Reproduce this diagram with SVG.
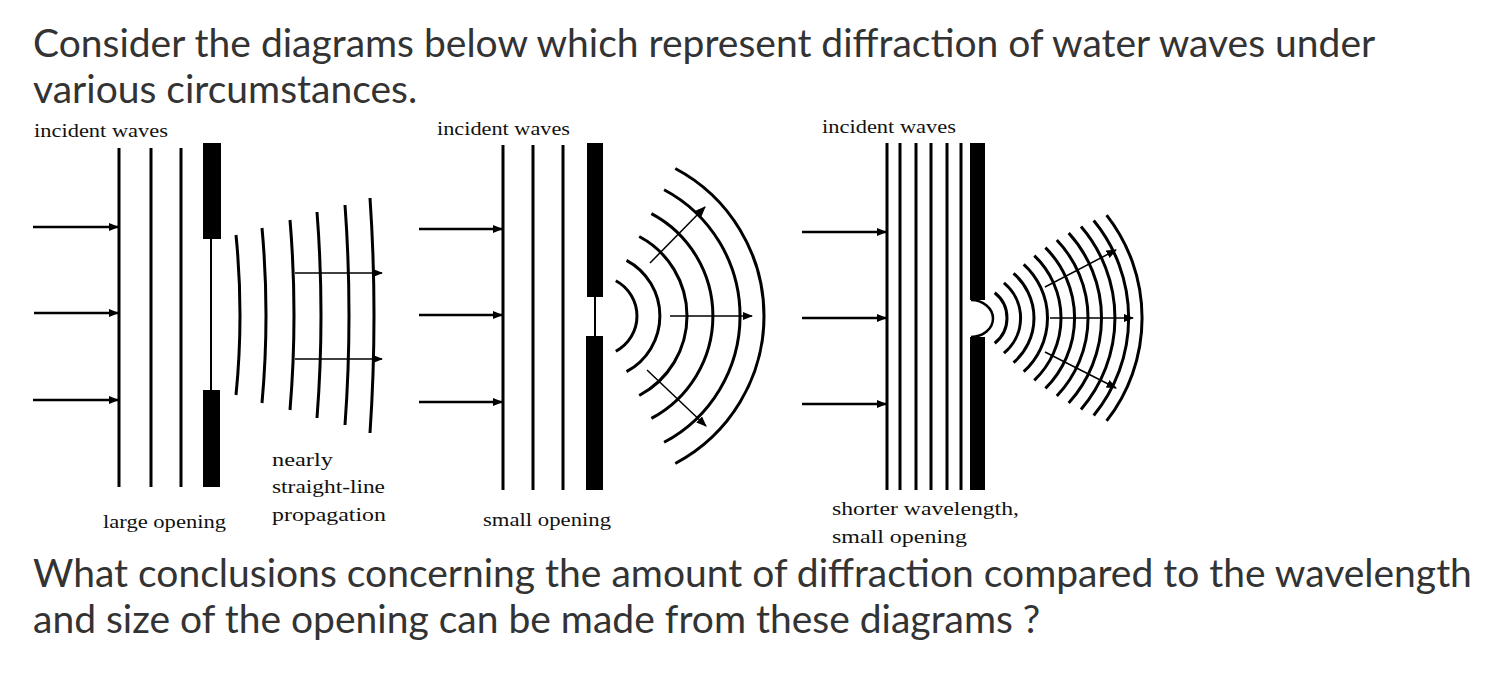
<svg xmlns="http://www.w3.org/2000/svg" width="1496" height="680" viewBox="0 0 1496 680">
<defs>
<marker id="ah" viewBox="0 0 10 10" refX="9" refY="5" markerWidth="4" markerHeight="4" orient="auto" markerUnits="strokeWidth"><path d="M0,1 L10,5 L0,9 z" fill="#000"/></marker>
<marker id="ah2" viewBox="0 0 10 10" refX="9" refY="5" markerWidth="7" markerHeight="7" orient="auto" markerUnits="strokeWidth"><path d="M0,1 L10,5 L0,9 z" fill="#000"/></marker>
</defs>
<style>
.h{font-family:Lato,"Liberation Sans",sans-serif;font-size:39px;fill:#333}
.l{font-family:"Liberation Serif","DejaVu Serif",serif;font-size:19px;fill:#111}
.w{stroke:#000;stroke-width:3;fill:none}
.c{stroke:#000;stroke-width:3;fill:none}
.a{stroke:#000;stroke-width:2.5;fill:none;marker-end:url(#ah)}
.t{stroke:#000;stroke-width:1.5;fill:none;marker-end:url(#ah2)}
</style>
<rect width="1496" height="680" fill="#fff"/>
<g id="heading">
<text class="h" x="33" y="57">Consider the diagrams below which represent diffraction of water waves under</text>
<text class="h" x="33" y="103">various circumstances.</text>
</g>
<g id="panel1">
<text class="l" x="34" y="137" textLength="134" lengthAdjust="spacingAndGlyphs">incident waves</text>
<line class="w" x1="119" y1="148" x2="119" y2="487"/>
<line class="w" x1="151" y1="148" x2="151" y2="487"/>
<line class="w" x1="181" y1="148" x2="181" y2="487"/>
<rect x="203" y="143" width="18" height="96" fill="#000"/>
<rect x="203" y="390" width="17" height="97" fill="#000"/>
<line x1="211" y1="239" x2="211" y2="390" stroke="#000" stroke-width="2"/>
<path class="c" d="M236,235 Q244,315 236,395"/>
<path class="c" d="M262,228 Q270,315 262,403"/>
<path class="c" d="M290,220 Q298,315 290,410"/>
<path class="c" d="M317,212 Q325,315 317,418"/>
<path class="c" d="M345,205 Q353,315 345,425"/>
<path class="c" d="M370,198 Q378,315 370,433"/>
<text class="l" x="103" y="528" textLength="123" lengthAdjust="spacingAndGlyphs">large opening</text>
<text class="l" x="272" y="466" textLength="61" lengthAdjust="spacingAndGlyphs">nearly</text>
<text class="l" x="272" y="493" textLength="113" lengthAdjust="spacingAndGlyphs">straight-line</text>
<text class="l" x="272" y="521" textLength="114" lengthAdjust="spacingAndGlyphs">propagation</text>
</g>
<g id="panel2">
<text class="l" x="437" y="135" textLength="133" lengthAdjust="spacingAndGlyphs">incident waves</text>
<line class="w" x1="503" y1="145" x2="503" y2="490"/>
<line class="w" x1="533" y1="145" x2="533" y2="490"/>
<line class="w" x1="563" y1="145" x2="563" y2="490"/>
<rect x="587" y="143" width="16" height="154" fill="#000"/>
<rect x="586" y="336" width="17" height="154" fill="#000"/>
<line x1="595" y1="297" x2="595" y2="336" stroke="#000" stroke-width="2"/>
<path class="c" d="M615.8,280.7 A40,40 0 0 1 615.8,351.3"/>
<path class="c" d="M626.5,260.4 A63,63 0 0 1 626.5,371.6"/>
<path class="c" d="M639.2,236.5 A90,90 0 0 1 639.2,395.5"/>
<path class="c" d="M651.4,213.6 A116,116 0 0 1 651.4,418.4"/>
<path class="c" d="M664.1,189.7 A143,143 0 0 1 664.1,442.3"/>
<path class="c" d="M675.3,168.5 A167,167 0 0 1 675.3,463.5"/>
<text class="l" x="483" y="526" textLength="128" lengthAdjust="spacingAndGlyphs">small opening</text>
</g>
<g id="panel3">
<text class="l" x="822" y="133" textLength="134" lengthAdjust="spacingAndGlyphs">incident waves</text>
<line class="w" x1="887" y1="143" x2="887" y2="490"/>
<line class="w" x1="900" y1="143" x2="900" y2="490"/>
<line class="w" x1="916" y1="143" x2="916" y2="490"/>
<line class="w" x1="931" y1="143" x2="931" y2="490"/>
<line class="w" x1="947" y1="143" x2="947" y2="490"/>
<line class="w" x1="961" y1="143" x2="961" y2="490"/>
<rect x="970" y="143" width="15" height="157" fill="#000"/>
<rect x="970" y="337" width="15" height="153" fill="#000"/>
<path d="M971,300 A22,18.5 0 0 1 971,337" stroke="#000" stroke-width="2.5" fill="none"/>
<path class="c" d="M994.7,292.8 A32,32 0 0 1 994.7,343.2"/>
<path class="c" d="M1003.9,282.8 A45.5,45.5 0 0 1 1003.9,353.2"/>
<path class="c" d="M1013.5,273.3 A59,59 0 0 1 1013.5,362.7"/>
<path class="c" d="M1023.7,264.3 A72.5,72.5 0 0 1 1023.7,371.7"/>
<path class="c" d="M1034.3,255.7 A86,86 0 0 1 1034.3,380.3"/>
<path class="c" d="M1045.4,247.6 A99.5,99.5 0 0 1 1045.4,388.4"/>
<path class="c" d="M1056.8,240 A113,113 0 0 1 1056.8,396"/>
<path class="c" d="M1068.7,233 A126.5,126.5 0 0 1 1068.7,403"/>
<path class="c" d="M1081,226.6 A140,140 0 0 1 1081,409.4"/>
<path class="c" d="M1093.7,220.5 A153.5,153.5 0 0 1 1093.7,415.5"/>
<path class="c" d="M1106.6,215.1 A167,167 0 0 1 1106.6,420.9"/>
<text class="l" x="832" y="515" textLength="187" lengthAdjust="spacingAndGlyphs">shorter wavelength,</text>
<text class="l" x="832" y="543" textLength="135" lengthAdjust="spacingAndGlyphs">small  opening</text>
</g>
<g id="connectors">
<line class="a" x1="33" y1="227" x2="118" y2="227"/>
<line class="a" x1="34" y1="313" x2="118" y2="313"/>
<line class="a" x1="33" y1="400" x2="118" y2="400"/>
<line class="t" x1="295" y1="273" x2="382" y2="273"/>
<line class="t" x1="295" y1="359" x2="382" y2="359"/>
<line class="a" x1="419" y1="229" x2="502" y2="229"/>
<line class="a" x1="419" y1="315" x2="502" y2="315"/>
<line class="a" x1="419" y1="402" x2="502" y2="402"/>
<line class="t" x1="670" y1="316" x2="752" y2="316"/>
<line class="t" x1="650" y1="263" x2="705" y2="207"/>
<line class="t" x1="647" y1="370" x2="706" y2="426"/>
<line class="a" x1="802" y1="232" x2="886" y2="232"/>
<line class="a" x1="802" y1="318" x2="886" y2="318"/>
<line class="a" x1="802" y1="404" x2="886" y2="404"/>
<line class="t" x1="1050" y1="318" x2="1133" y2="318"/>
<line class="t" x1="1045" y1="287" x2="1116" y2="250"/>
<line class="t" x1="1045" y1="352" x2="1116" y2="388"/>
</g>
<g id="question">
<text class="h" x="33" y="587">What conclusions concerning the amount of diffraction compared to the wavelength</text>
<text class="h" x="33" y="633">and size of the opening can be made from these diagrams ?</text>
</g>
</svg>
